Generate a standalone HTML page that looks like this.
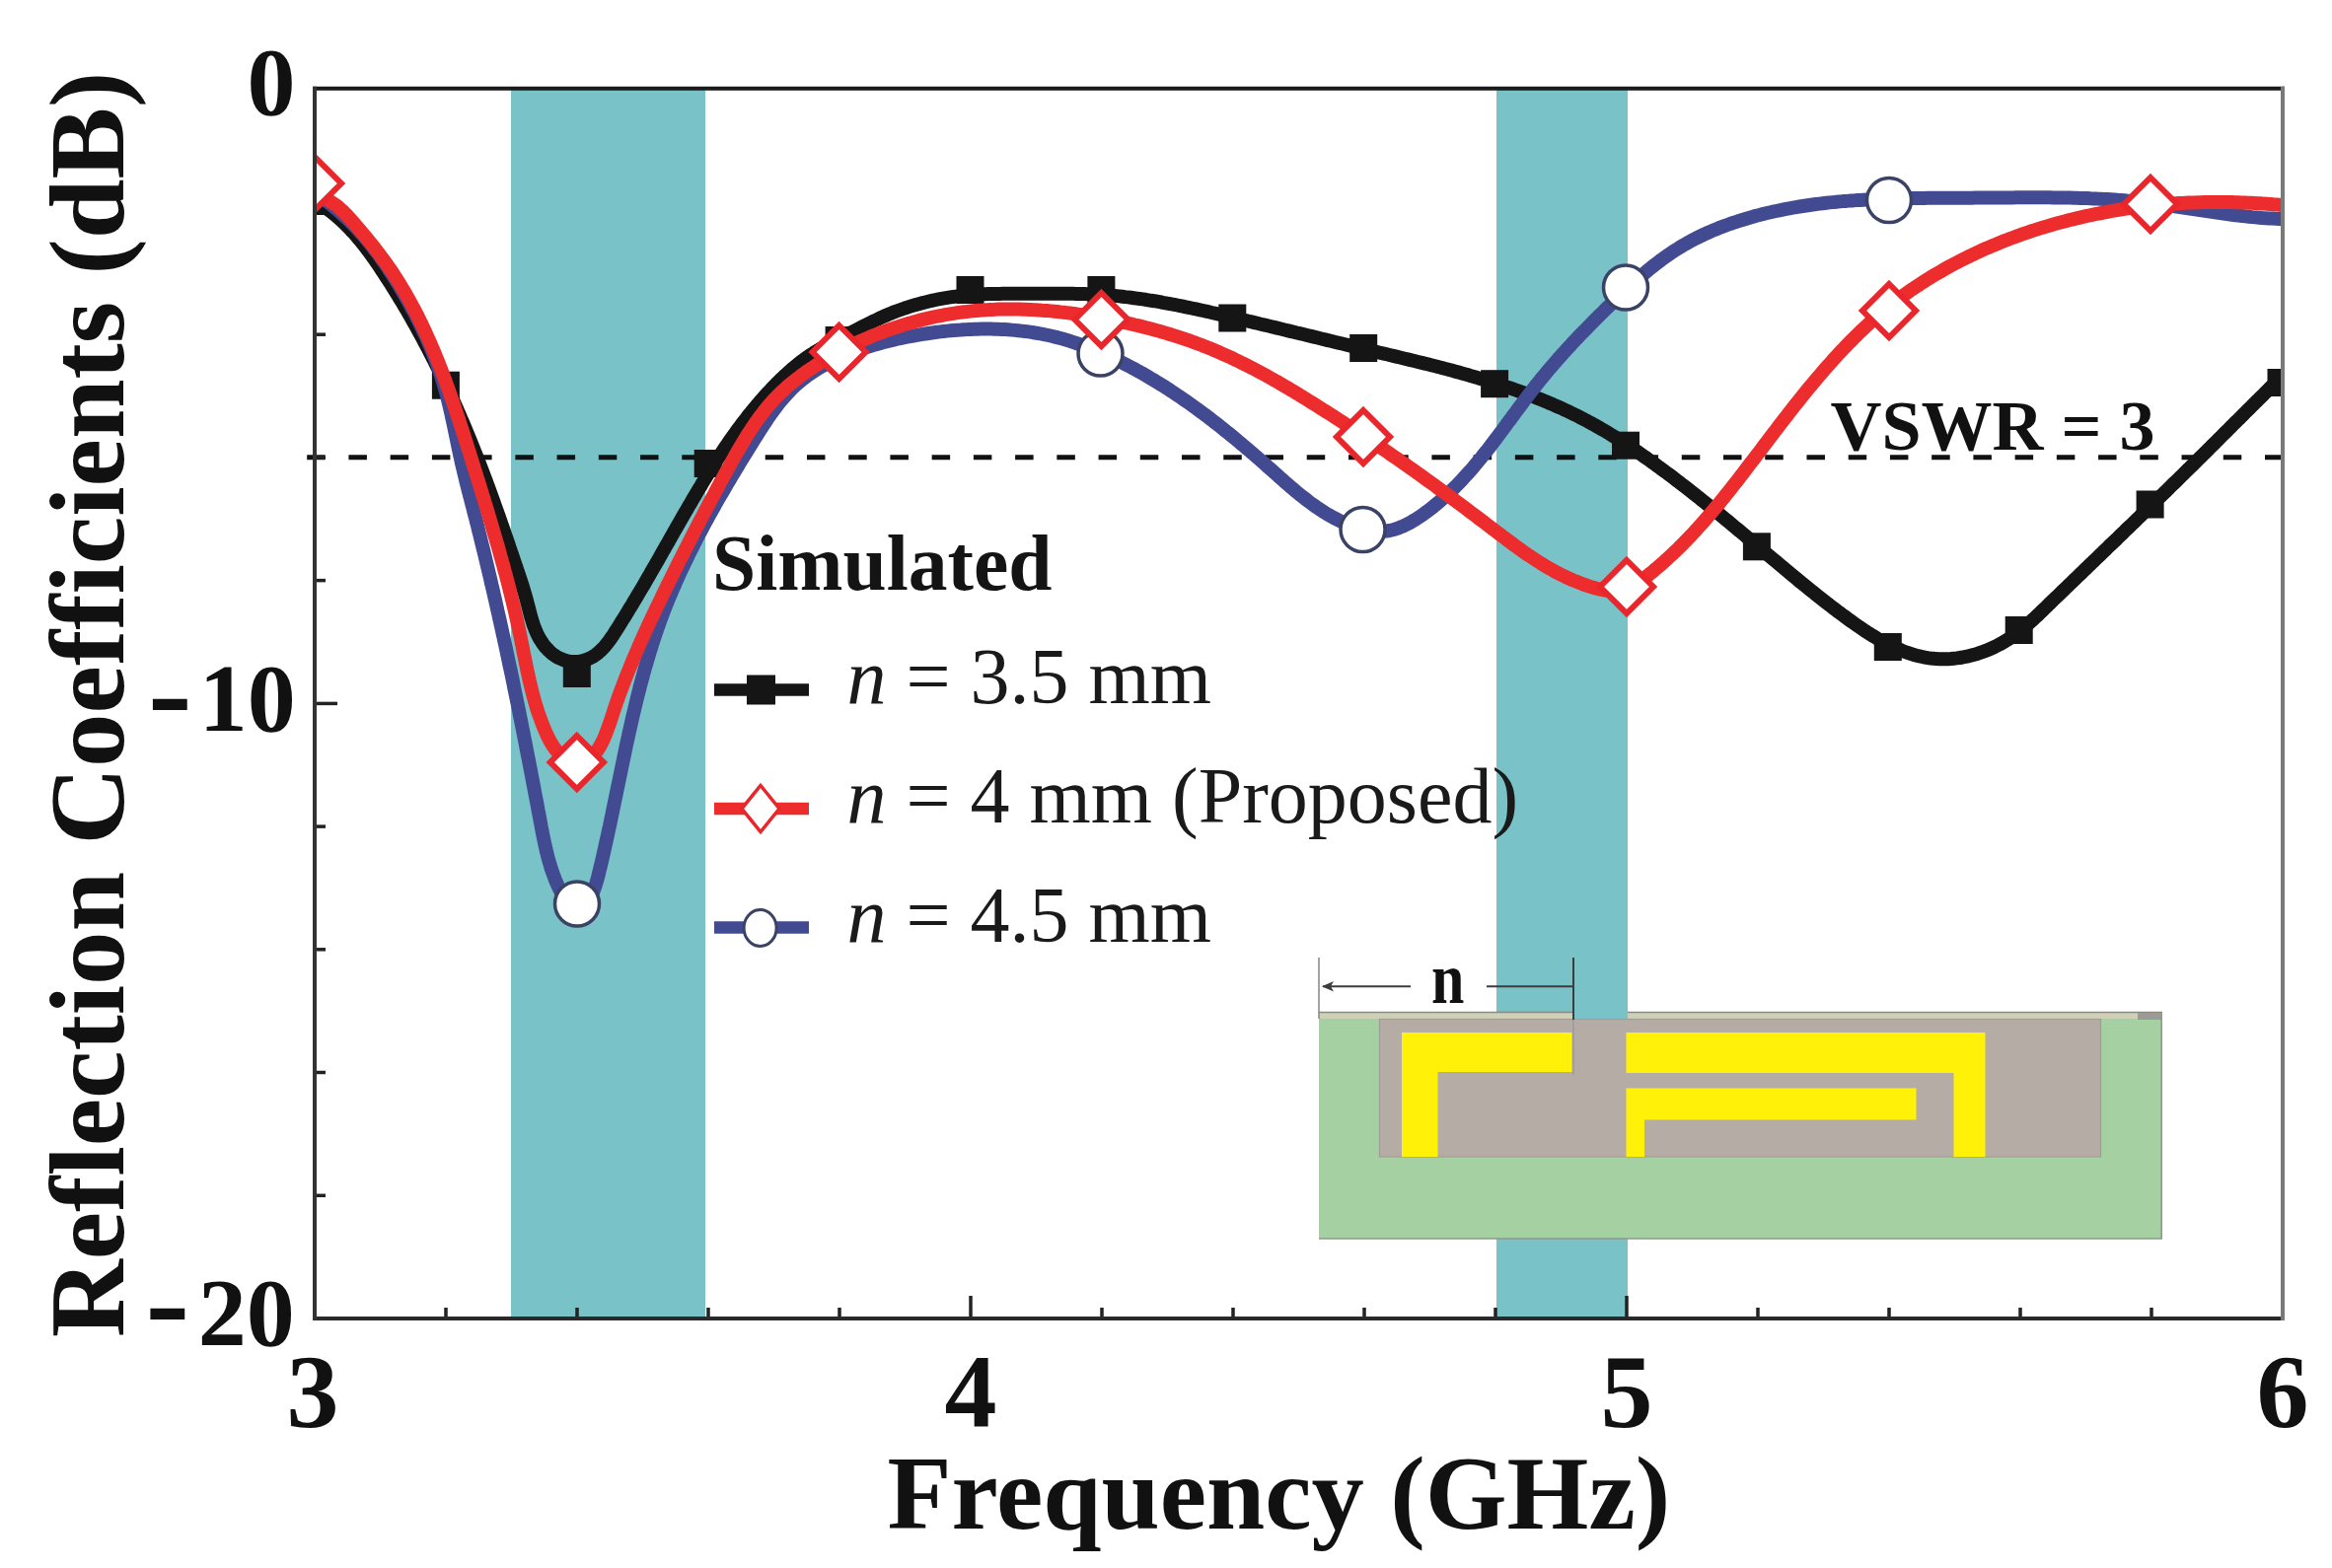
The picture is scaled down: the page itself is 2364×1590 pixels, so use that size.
<!DOCTYPE html>
<html><head><meta charset="utf-8"><title>Reflection Coefficients</title>
<style>
html,body{margin:0;padding:0;background:#fff;}
svg{display:block;}
text{font-family:"Liberation Serif","Times New Roman",serif;}
</style></head><body>
<svg width="2364" height="1590" viewBox="0 0 2364 1590">
<rect width="2364" height="1590" fill="#fff"/>
<defs><clipPath id="pa"><rect x="319.0" y="89.7" width="1995.0" height="1247.3"/></clipPath></defs>

<rect x="518" y="89.7" width="197" height="1247.3" fill="#79c2c8"/>
<rect x="1517" y="89.7" width="133" height="1247.3" fill="#79c2c8"/>
<g id="inset">
<rect x="1337" y="1027" width="855" height="229" fill="#a5d0a2"/>
<rect x="1337" y="1026" width="855" height="7" fill="#cfd0b8"/>
<line x1="1337" y1="1026.5" x2="2192" y2="1026.5" stroke="#8a8a80" stroke-width="1.5"/>
<rect x="1594" y="1020" width="56" height="14" fill="#79c2c8"/>
<rect x="1398.5" y="1033.5" width="731" height="139.5" fill="#b6aca6" stroke="#a39d97" stroke-width="1.2"/>
<rect x="2167" y="1027" width="24" height="7" fill="#9a9a96"/>
<path d="M2191.2,1027 V1256 H1337" fill="none" stroke="#8e9a8a" stroke-width="1.6"/>
<path d="M1421,1047 H1593.5 V1087 H1457.5 V1173 H1421 Z" fill="#fff107"/>
<path d="M1648.5,1047 H2012.5 V1173 H1980.5 V1088 H1648.5 Z" fill="#fff107"/>
<path d="M1648.5,1103.5 H1942.5 V1135.5 H1667 V1173 H1648.5 Z" fill="#fff107"/>
<line x1="1595" y1="1033" x2="1595" y2="1090" stroke="#9a9a9a" stroke-width="1.5"/>
<g stroke="#3c3c3c" stroke-width="2" fill="none">
<line x1="1337" y1="971" x2="1337" y2="1033" stroke="#8c8c8c" stroke-width="1.6"/>
<line x1="1341" y1="1000.2" x2="1430" y2="1000.2"/>
<line x1="1507" y1="1000.2" x2="1595" y2="1000.2"/>
<line x1="1595" y1="971" x2="1595" y2="1034"/>
</g>
<path d="M1340,1000.2 L1352,995 L1349,1000.2 L1352,1005.4 Z" fill="#3c3c3c"/>
<text x="1451" y="1016" font-size="60" font-weight="bold" transform="matrix(1,0,0,1.22,0,-222.5)" fill="#111">n</text>
</g>
<line x1="311.2" y1="463.8" x2="2312" y2="463.8" stroke="#111" stroke-width="5" stroke-dasharray="18.5 23.73"/>
<g stroke="#222" stroke-width="3.5"><line x1="452.0" y1="1337.0" x2="452.0" y2="1326.0"/><line x1="585.0" y1="1337.0" x2="585.0" y2="1326.0"/><line x1="718.0" y1="1337.0" x2="718.0" y2="1326.0"/><line x1="851.0" y1="1337.0" x2="851.0" y2="1326.0"/><line x1="984.0" y1="1337.0" x2="984.0" y2="1314.0"/><line x1="1117.0" y1="1337.0" x2="1117.0" y2="1326.0"/><line x1="1250.0" y1="1337.0" x2="1250.0" y2="1326.0"/><line x1="1383.0" y1="1337.0" x2="1383.0" y2="1326.0"/><line x1="1516.0" y1="1337.0" x2="1516.0" y2="1326.0"/><line x1="1649.0" y1="1337.0" x2="1649.0" y2="1314.0"/><line x1="1782.0" y1="1337.0" x2="1782.0" y2="1326.0"/><line x1="1915.0" y1="1337.0" x2="1915.0" y2="1326.0"/><line x1="2048.0" y1="1337.0" x2="2048.0" y2="1326.0"/><line x1="2181.0" y1="1337.0" x2="2181.0" y2="1326.0"/><line x1="319.0" y1="214.4" x2="330.0" y2="214.4"/><line x1="319.0" y1="339.2" x2="330.0" y2="339.2"/><line x1="319.0" y1="463.9" x2="330.0" y2="463.9"/><line x1="319.0" y1="588.6" x2="330.0" y2="588.6"/><line x1="319.0" y1="713.4" x2="342.0" y2="713.4"/><line x1="319.0" y1="838.1" x2="330.0" y2="838.1"/><line x1="319.0" y1="962.8" x2="330.0" y2="962.8"/><line x1="319.0" y1="1087.5" x2="330.0" y2="1087.5"/><line x1="319.0" y1="1212.3" x2="330.0" y2="1212.3"/></g>
<g clip-path="url(#pa)" fill="none" stroke-linejoin="round" stroke-linecap="round">
<path d="M319.2,203.7 L321.8,205.2 L324.3,206.8 L326.8,208.4 L329.3,210.0 L331.7,211.8 L334.1,213.5 L336.4,215.3 L338.7,217.2 L341.0,219.0 L343.2,221.0 L345.4,222.9 L347.5,224.9 L349.7,227.0 L351.7,229.0 L353.8,231.1 L355.8,233.3 L357.8,235.4 L359.8,237.6 L361.7,239.9 L363.6,242.1 L365.5,244.4 L367.4,246.7 L369.2,249.0 L371.0,251.4 L372.8,253.7 L374.6,256.1 L376.4,258.5 L378.1,260.9 L379.8,263.3 L381.5,265.8 L383.2,268.2 L384.9,270.7 L386.5,273.2 L388.2,275.7 L389.8,278.2 L391.4,280.7 L393.1,283.2 L394.7,285.7 L396.3,288.2 L397.8,290.7 L399.4,293.2 L401.0,295.7 L402.5,298.3 L404.1,300.8 L405.6,303.3 L407.2,305.9 L408.7,308.4 L410.2,311.0 L411.7,313.5 L413.2,316.1 L414.7,318.7 L416.2,321.2 L417.6,323.8 L419.1,326.4 L420.5,328.9 L422.0,331.5 L423.4,334.1 L424.8,336.7 L426.2,339.3 L427.7,341.9 L429.1,344.5 L430.4,347.1 L431.8,349.7 L433.2,352.4 L434.6,355.0 L435.9,357.6 L437.3,360.2 L438.6,362.9 L440.0,365.5 L441.3,368.2 L442.6,370.8 L443.9,373.4 L445.2,376.1 L446.5,378.8 L447.8,381.4 L449.1,384.1 L450.4,386.8 L451.6,389.4 L452.9,392.1 L454.1,394.8 L455.4,397.5 L456.6,400.1 L457.8,402.8 L459.1,405.5 L460.3,408.2 L461.5,410.9 L462.7,413.6 L463.9,416.3 L465.1,419.1 L466.3,421.8 L467.4,424.5 L468.6,427.2 L469.8,429.9 L470.9,432.7 L472.1,435.4 L473.2,438.1 L474.4,440.9 L475.5,443.6 L476.6,446.3 L477.7,449.1 L478.8,451.8 L479.9,454.6 L481.0,457.3 L482.1,460.1 L483.2,462.9 L484.3,465.6 L485.4,468.4 L486.5,471.2 L487.5,473.9 L488.6,476.7 L489.6,479.5 L490.7,482.3 L491.7,485.1 L492.8,487.9 L493.8,490.6 L494.8,493.4 L495.9,496.2 L496.9,499.0 L497.9,501.8 L498.9,504.6 L499.9,507.4 L500.9,510.2 L501.9,513.0 L502.9,515.8 L503.9,518.6 L504.9,521.4 L505.9,524.2 L506.9,527.0 L507.9,529.8 L508.8,532.6 L509.8,535.4 L510.8,538.2 L511.7,541.0 L512.7,543.8 L513.7,546.6 L514.6,549.4 L515.6,552.2 L516.5,555.0 L517.5,557.8 L518.4,560.6 L519.4,563.4 L520.3,566.2 L521.3,569.0 L522.2,571.7 L523.2,574.5 L524.1,577.3 L525.0,580.1 L526.0,582.9 L526.9,585.6 L527.8,588.4 L528.7,591.2 L529.6,594.0 L530.5,596.8 L531.3,599.6 L532.2,602.5 L533.0,605.3 L533.8,608.2 L534.5,611.1 L535.3,613.9 L536.0,616.8 L536.8,619.8 L537.5,622.7 L538.3,625.6 L539.2,628.5 L540.1,631.3 L541.0,634.2 L542.1,637.0 L543.2,639.8 L544.4,642.6 L545.8,645.3 L547.3,648.0 L548.9,650.5 L550.6,653.1 L552.4,655.5 L554.4,657.7 L556.5,659.9 L558.7,661.9 L561.0,663.7 L563.5,665.4 L566.0,666.9 L568.7,668.1 L571.4,669.2 L574.1,670.0 L576.9,670.6 L579.7,670.9 L582.5,671.0 L585.4,670.9 L588.2,670.6 L591.0,670.0 L593.7,669.2 L596.3,668.2 L598.9,667.0 L601.4,665.6 L603.8,664.0 L606.1,662.2 L608.3,660.3 L610.4,658.2 L612.5,656.1 L614.4,653.8 L616.3,651.4 L618.1,649.0 L619.8,646.5 L621.6,643.9 L623.2,641.3 L624.9,638.7 L626.5,636.2 L628.1,633.6 L629.7,631.0 L631.3,628.4 L632.9,625.9 L634.5,623.3 L636.0,620.8 L637.6,618.2 L639.1,615.7 L640.7,613.2 L642.2,610.6 L643.7,608.1 L645.2,605.6 L646.7,603.0 L648.2,600.5 L649.7,598.0 L651.2,595.5 L652.7,592.9 L654.2,590.4 L655.6,587.9 L657.1,585.3 L658.6,582.8 L660.0,580.2 L661.5,577.7 L663.0,575.1 L664.4,572.6 L665.9,570.0 L667.4,567.4 L668.8,564.9 L670.3,562.3 L671.7,559.7 L673.2,557.2 L674.6,554.6 L676.1,552.0 L677.6,549.4 L679.0,546.9 L680.5,544.3 L681.9,541.7 L683.4,539.1 L684.9,536.5 L686.3,534.0 L687.8,531.4 L689.3,528.8 L690.8,526.2 L692.2,523.6 L693.7,521.1 L695.2,518.5 L696.7,515.9 L698.2,513.3 L699.7,510.8 L701.2,508.2 L702.7,505.6 L704.2,503.1 L705.7,500.5 L707.2,498.0 L708.7,495.4 L710.3,492.9 L711.8,490.3 L713.3,487.8 L714.9,485.3 L716.4,482.7 L718.0,480.2 L719.6,477.7 L721.1,475.2 L722.7,472.7 L724.3,470.2 L725.9,467.7 L727.5,465.2 L729.1,462.7 L730.8,460.2 L732.4,457.8 L734.0,455.3 L735.7,452.9 L737.4,450.4 L739.0,448.0 L740.7,445.6 L742.4,443.1 L744.2,440.7 L745.9,438.3 L747.6,435.9 L749.4,433.6 L751.1,431.2 L752.9,428.8 L754.7,426.5 L756.5,424.2 L758.3,421.8 L760.2,419.5 L762.0,417.2 L763.9,414.9 L765.8,412.6 L767.7,410.4 L769.6,408.1 L771.5,405.9 L773.5,403.7 L775.5,401.4 L777.5,399.2 L779.5,397.1 L781.5,394.9 L783.5,392.7 L785.6,390.6 L787.7,388.5 L789.8,386.4 L791.9,384.3 L794.1,382.2 L796.3,380.2 L798.4,378.2 L800.7,376.2 L802.9,374.2 L805.2,372.3 L807.5,370.4 L809.8,368.6 L812.1,366.7 L814.5,365.0 L816.9,363.2 L819.3,361.5 L821.7,359.9 L824.2,358.3 L826.7,356.7 L829.2,355.2 L831.7,353.7 L834.3,352.2 L836.9,350.7 L839.5,349.3 L842.1,347.9 L844.7,346.5 L847.3,345.1 L849.9,343.8 L852.5,342.4 L855.2,341.1 L857.8,339.7 L860.5,338.4 L863.1,337.0 L865.8,335.7 L868.4,334.3 L871.1,332.9 L873.7,331.6 L876.4,330.2 L879.0,328.9 L881.7,327.6 L884.4,326.2 L887.0,325.0 L889.7,323.7 L892.4,322.4 L895.1,321.2 L897.8,320.0 L900.5,318.8 L903.3,317.7 L906.0,316.6 L908.8,315.5 L911.6,314.5 L914.4,313.5 L917.2,312.5 L920.0,311.6 L922.8,310.7 L925.6,309.8 L928.5,309.0 L931.3,308.2 L934.2,307.4 L937.0,306.7 L939.9,306.0 L942.8,305.3 L945.7,304.6 L948.6,304.0 L951.5,303.4 L954.4,302.9 L957.3,302.4 L960.3,301.9 L963.2,301.4 L966.1,301.0 L969.1,300.6 L972.0,300.2 L974.9,299.9 L977.9,299.6 L980.8,299.3 L983.8,299.0 L986.8,298.8 L989.7,298.6 L992.7,298.5 L995.6,298.3 L998.6,298.2 L1001.6,298.1 L1004.5,298.0 L1007.5,297.9 L1010.5,297.9 L1013.4,297.9 L1016.4,297.8 L1019.4,297.8 L1022.3,297.8 L1025.3,297.8 L1028.3,297.8 L1031.2,297.8 L1034.2,297.8 L1037.2,297.8 L1040.1,297.8 L1043.1,297.8 L1046.1,297.8 L1049.0,297.8 L1052.0,297.8 L1055.0,297.8 L1057.9,297.8 L1060.9,297.8 L1063.9,297.8 L1066.8,297.8 L1069.8,297.8 L1072.8,297.8 L1075.7,297.8 L1078.7,297.8 L1081.6,297.8 L1084.6,297.8 L1087.6,297.8 L1090.5,297.9 L1093.5,297.9 L1096.4,298.0 L1099.4,298.1 L1102.3,298.2 L1105.3,298.3 L1108.2,298.4 L1111.2,298.6 L1114.1,298.7 L1117.1,298.9 L1120.0,299.1 L1123.0,299.3 L1125.9,299.6 L1128.9,299.8 L1131.8,300.1 L1134.7,300.4 L1137.7,300.7 L1140.6,301.1 L1143.6,301.4 L1146.5,301.8 L1149.4,302.2 L1152.4,302.6 L1155.3,303.0 L1158.3,303.4 L1161.2,303.8 L1164.1,304.3 L1167.0,304.8 L1170.0,305.2 L1172.9,305.7 L1175.8,306.2 L1178.8,306.8 L1181.7,307.3 L1184.6,307.8 L1187.5,308.4 L1190.4,308.9 L1193.4,309.5 L1196.3,310.1 L1199.2,310.7 L1202.1,311.3 L1205.0,311.9 L1207.9,312.5 L1210.8,313.1 L1213.8,313.7 L1216.7,314.4 L1219.6,315.0 L1222.5,315.6 L1225.4,316.3 L1228.3,317.0 L1231.2,317.6 L1234.1,318.3 L1237.0,318.9 L1239.9,319.6 L1242.8,320.3 L1245.6,321.0 L1248.5,321.6 L1251.4,322.3 L1254.3,323.0 L1257.2,323.7 L1260.1,324.4 L1263.0,325.0 L1265.8,325.7 L1268.7,326.4 L1271.6,327.1 L1274.5,327.8 L1277.3,328.5 L1280.2,329.2 L1283.1,329.8 L1286.0,330.5 L1288.8,331.2 L1291.7,331.9 L1294.6,332.6 L1297.4,333.3 L1300.3,334.0 L1303.2,334.7 L1306.0,335.4 L1308.9,336.1 L1311.8,336.8 L1314.6,337.5 L1317.5,338.1 L1320.4,338.8 L1323.2,339.5 L1326.1,340.2 L1329.0,340.9 L1331.9,341.6 L1334.7,342.3 L1337.6,343.0 L1340.5,343.7 L1343.3,344.4 L1346.2,345.1 L1349.1,345.8 L1351.9,346.5 L1354.8,347.2 L1357.7,347.9 L1360.6,348.5 L1363.4,349.2 L1366.3,349.9 L1369.2,350.6 L1372.1,351.3 L1374.9,352.0 L1377.8,352.7 L1380.7,353.4 L1383.6,354.0 L1386.5,354.7 L1389.4,355.4 L1392.3,356.1 L1395.1,356.8 L1398.0,357.5 L1400.9,358.2 L1403.8,358.8 L1406.7,359.5 L1409.6,360.2 L1412.5,360.9 L1415.4,361.6 L1418.3,362.3 L1421.2,363.0 L1424.1,363.7 L1427.0,364.4 L1429.9,365.1 L1432.8,365.8 L1435.6,366.5 L1438.5,367.2 L1441.4,367.9 L1444.3,368.6 L1447.2,369.3 L1450.1,370.1 L1453.0,370.8 L1455.9,371.5 L1458.8,372.3 L1461.6,373.0 L1464.5,373.8 L1467.4,374.5 L1470.3,375.3 L1473.1,376.1 L1476.0,376.9 L1478.9,377.6 L1481.7,378.4 L1484.6,379.2 L1487.5,380.0 L1490.3,380.9 L1493.2,381.7 L1496.0,382.5 L1498.9,383.4 L1501.7,384.2 L1504.6,385.1 L1507.4,385.9 L1510.2,386.8 L1513.0,387.7 L1515.9,388.6 L1518.7,389.5 L1521.5,390.4 L1524.3,391.3 L1527.1,392.3 L1529.9,393.2 L1532.7,394.2 L1535.5,395.2 L1538.3,396.1 L1541.1,397.1 L1543.9,398.1 L1546.6,399.2 L1549.4,400.2 L1552.2,401.3 L1554.9,402.3 L1557.7,403.4 L1560.4,404.5 L1563.1,405.6 L1565.9,406.7 L1568.6,407.8 L1571.3,409.0 L1574.0,410.1 L1576.7,411.3 L1579.4,412.5 L1582.1,413.7 L1584.8,414.9 L1587.4,416.2 L1590.1,417.4 L1592.8,418.7 L1595.4,420.0 L1598.1,421.3 L1600.7,422.6 L1603.3,424.0 L1605.9,425.3 L1608.5,426.7 L1611.1,428.1 L1613.7,429.5 L1616.3,430.9 L1618.9,432.4 L1621.5,433.9 L1624.0,435.3 L1626.6,436.8 L1629.1,438.3 L1631.7,439.9 L1634.2,441.4 L1636.7,443.0 L1639.2,444.5 L1641.7,446.1 L1644.2,447.7 L1646.7,449.3 L1649.2,451.0 L1651.7,452.6 L1654.2,454.3 L1656.6,455.9 L1659.1,457.6 L1661.5,459.3 L1664.0,461.0 L1666.4,462.7 L1668.9,464.4 L1671.3,466.1 L1673.7,467.8 L1676.1,469.6 L1678.5,471.3 L1680.9,473.1 L1683.3,474.8 L1685.7,476.6 L1688.1,478.4 L1690.5,480.1 L1692.9,481.9 L1695.3,483.7 L1697.6,485.5 L1700.0,487.3 L1702.4,489.1 L1704.7,490.9 L1707.1,492.8 L1709.4,494.6 L1711.8,496.4 L1714.1,498.2 L1716.4,500.1 L1718.8,501.9 L1721.1,503.8 L1723.4,505.6 L1725.7,507.5 L1728.0,509.3 L1730.4,511.2 L1732.7,513.0 L1735.0,514.9 L1737.3,516.8 L1739.6,518.6 L1741.9,520.5 L1744.2,522.4 L1746.4,524.3 L1748.7,526.2 L1751.0,528.0 L1753.3,529.9 L1755.6,531.8 L1757.8,533.7 L1760.1,535.6 L1762.4,537.5 L1764.7,539.4 L1766.9,541.3 L1769.2,543.2 L1771.4,545.1 L1773.7,547.0 L1776.0,548.9 L1778.2,550.8 L1780.5,552.7 L1782.7,554.6 L1785.0,556.5 L1787.2,558.4 L1789.5,560.3 L1791.7,562.2 L1794.0,564.1 L1796.2,566.0 L1798.5,567.9 L1800.7,569.7 L1803.0,571.6 L1805.2,573.5 L1807.5,575.4 L1809.7,577.3 L1812.0,579.2 L1814.3,581.1 L1816.5,583.0 L1818.8,584.8 L1821.1,586.7 L1823.3,588.6 L1825.6,590.5 L1827.9,592.3 L1830.2,594.2 L1832.5,596.1 L1834.8,597.9 L1837.1,599.8 L1839.4,601.6 L1841.7,603.5 L1844.1,605.3 L1846.4,607.2 L1848.7,609.0 L1851.1,610.8 L1853.4,612.7 L1855.8,614.5 L1858.2,616.3 L1860.6,618.1 L1862.9,619.9 L1865.3,621.7 L1867.7,623.5 L1870.2,625.3 L1872.6,627.1 L1875.0,628.9 L1877.5,630.6 L1880.0,632.4 L1882.4,634.1 L1884.9,635.8 L1887.4,637.5 L1889.9,639.2 L1892.4,640.9 L1895.0,642.5 L1897.5,644.1 L1900.1,645.6 L1902.6,647.2 L1905.2,648.7 L1907.8,650.1 L1910.4,651.6 L1913.1,652.9 L1915.7,654.3 L1918.3,655.6 L1921.0,656.8 L1923.7,658.0 L1926.4,659.1 L1929.1,660.2 L1931.8,661.2 L1934.6,662.2 L1937.3,663.1 L1940.1,663.9 L1942.9,664.7 L1945.7,665.4 L1948.5,666.0 L1951.4,666.6 L1954.2,667.1 L1957.1,667.5 L1960.0,667.8 L1962.9,668.1 L1965.8,668.2 L1968.8,668.3 L1971.7,668.3 L1974.7,668.2 L1977.7,668.0 L1980.7,667.7 L1983.7,667.4 L1986.6,667.0 L1989.6,666.5 L1992.6,665.9 L1995.6,665.3 L1998.5,664.5 L2001.5,663.7 L2004.4,662.9 L2007.3,661.9 L2010.2,660.9 L2013.0,659.9 L2015.8,658.7 L2018.6,657.5 L2021.4,656.3 L2024.1,654.9 L2026.7,653.6 L2029.3,652.1 L2031.9,650.6 L2034.4,649.1 L2036.9,647.5 L2039.3,645.8 L2041.7,644.1 L2044.1,642.3 L2046.4,640.6 L2048.7,638.7 L2051.0,636.9 L2053.2,635.0 L2055.5,633.1 L2057.7,631.1 L2059.8,629.2 L2062.0,627.2 L2064.1,625.2 L2066.3,623.2 L2068.4,621.1 L2070.5,619.1 L2072.7,617.0 L2074.8,615.0 L2076.9,612.9 L2079.0,610.9 L2081.1,608.8 L2083.2,606.8 L2085.4,604.7 L2087.5,602.7 L2089.6,600.6 L2091.7,598.6 L2093.9,596.5 L2096.0,594.5 L2098.1,592.4 L2100.3,590.4 L2102.4,588.3 L2104.5,586.2 L2106.6,584.2 L2108.8,582.1 L2110.9,580.1 L2113.0,578.0 L2115.2,576.0 L2117.3,573.9 L2119.4,571.9 L2121.6,569.8 L2123.7,567.7 L2125.8,565.7 L2128.0,563.6 L2130.1,561.6 L2132.2,559.5 L2134.4,557.5 L2136.5,555.4 L2138.6,553.3 L2140.8,551.3 L2142.9,549.2 L2145.1,547.2 L2147.2,545.1 L2149.3,543.0 L2151.5,541.0 L2153.6,538.9 L2155.7,536.8 L2157.9,534.8 L2160.0,532.7 L2162.1,530.7 L2164.3,528.6 L2166.4,526.5 L2168.5,524.5 L2170.7,522.4 L2172.8,520.3 L2174.9,518.3 L2177.1,516.2 L2179.2,514.1 L2181.3,512.1 L2183.4,510.0 L2185.6,507.9 L2187.7,505.8 L2189.8,503.8 L2191.9,501.7 L2194.1,499.6 L2196.2,497.6 L2198.3,495.5 L2200.4,493.4 L2202.5,491.3 L2204.7,489.3 L2206.8,487.2 L2208.9,485.1 L2211.0,483.0 L2213.1,481.0 L2215.2,478.9 L2217.3,476.8 L2219.4,474.7 L2221.6,472.6 L2223.7,470.6 L2225.8,468.5 L2227.9,466.4 L2230.0,464.3 L2232.1,462.2 L2234.2,460.1 L2236.3,458.1 L2238.4,456.0 L2240.5,453.9 L2242.6,451.8 L2244.7,449.7 L2246.8,447.6 L2248.9,445.5 L2251.0,443.4 L2253.0,441.4 L2255.1,439.3 L2257.2,437.2 L2259.3,435.1 L2261.4,433.0 L2263.5,430.9 L2265.6,428.8 L2267.7,426.7 L2269.8,424.7 L2271.9,422.6 L2274.0,420.5 L2276.1,418.4 L2278.2,416.3 L2280.3,414.2 L2282.4,412.1 L2284.5,410.0 L2286.6,407.9 L2288.7,405.9 L2290.8,403.8 L2292.9,401.7 L2295.0,399.6 L2297.1,397.5 L2299.2,395.4 L2301.3,393.3 L2303.4,391.2 L2305.6,389.1 L2307.7,387.1 L2309.8,385.0 L2311.9,382.9 L2314.0,380.8" stroke="#151515" stroke-width="14"/>
<g fill="#151515" stroke="none"><rect x="305.0" y="190.0" width="28" height="28"/><rect x="437.9" y="376.7" width="28" height="28"/><rect x="570.8" y="669.0" width="28" height="28"/><rect x="703.7" y="456.0" width="28" height="28"/><rect x="836.6" y="331.0" width="28" height="28"/><rect x="969.5" y="280.0" width="28" height="28"/><rect x="1102.4" y="280.0" width="28" height="28"/><rect x="1235.3" y="308.5" width="28" height="28"/><rect x="1368.2" y="339.0" width="28" height="28"/><rect x="1501.1" y="375.2" width="28" height="28"/><rect x="1634.0" y="437.7" width="28" height="28"/><rect x="1766.9" y="540.3" width="28" height="28"/><rect x="1899.8" y="642.0" width="28" height="28"/><rect x="2032.7" y="625.0" width="28" height="28"/><rect x="2165.6" y="497.5" width="28" height="28"/><rect x="2298.5" y="374.0" width="28" height="28"/></g>
<path d="M319.1,195.8 L322.0,197.7 L324.9,199.6 L327.7,201.6 L330.5,203.6 L333.3,205.7 L336.0,207.8 L338.7,210.0 L341.3,212.2 L343.9,214.4 L346.5,216.7 L349.0,219.0 L351.5,221.3 L354.0,223.7 L356.4,226.1 L358.8,228.5 L361.2,231.0 L363.5,233.5 L365.8,236.1 L368.1,238.6 L370.3,241.2 L372.5,243.8 L374.7,246.5 L376.8,249.2 L378.9,251.9 L381.0,254.6 L383.1,257.4 L385.1,260.1 L387.1,262.9 L389.1,265.7 L391.1,268.6 L393.0,271.4 L394.9,274.3 L396.8,277.2 L398.7,280.1 L400.5,283.0 L402.3,286.0 L404.1,288.9 L405.9,291.9 L407.6,294.9 L409.4,297.9 L411.1,300.8 L412.8,303.9 L414.5,306.9 L416.1,309.9 L417.7,312.9 L419.4,316.0 L421.0,319.0 L422.5,322.1 L424.1,325.2 L425.6,328.3 L427.1,331.4 L428.6,334.5 L430.0,337.6 L431.5,340.7 L432.9,343.8 L434.2,347.0 L435.6,350.1 L436.9,353.3 L438.2,356.5 L439.5,359.7 L440.7,362.8 L441.9,366.1 L443.1,369.3 L444.2,372.5 L445.4,375.7 L446.5,379.0 L447.5,382.2 L448.5,385.5 L449.5,388.8 L450.5,392.1 L451.4,395.4 L452.3,398.7 L453.2,402.0 L454.0,405.3 L454.8,408.6 L455.6,412.0 L456.4,415.3 L457.2,418.7 L457.9,422.0 L458.6,425.4 L459.4,428.8 L460.1,432.1 L460.8,435.5 L461.5,438.9 L462.2,442.2 L462.9,445.6 L463.6,449.0 L464.3,452.4 L465.0,455.8 L465.7,459.1 L466.4,462.5 L467.2,465.9 L467.9,469.2 L468.7,472.6 L469.5,475.9 L470.3,479.3 L471.1,482.6 L471.9,486.0 L472.7,489.3 L473.6,492.7 L474.4,496.0 L475.3,499.4 L476.1,502.7 L477.0,506.0 L477.9,509.4 L478.7,512.7 L479.6,516.0 L480.4,519.4 L481.3,522.7 L482.2,526.0 L483.0,529.4 L483.9,532.7 L484.7,536.0 L485.5,539.4 L486.4,542.7 L487.2,546.0 L488.0,549.4 L488.8,552.7 L489.7,556.1 L490.5,559.4 L491.3,562.7 L492.1,566.1 L492.9,569.4 L493.7,572.8 L494.5,576.1 L495.3,579.5 L496.1,582.8 L496.9,586.1 L497.6,589.5 L498.4,592.8 L499.2,596.2 L500.0,599.5 L500.7,602.9 L501.5,606.2 L502.3,609.6 L503.0,612.9 L503.8,616.3 L504.5,619.6 L505.3,623.0 L506.0,626.3 L506.8,629.7 L507.5,633.0 L508.3,636.4 L509.0,639.7 L509.7,643.1 L510.5,646.4 L511.2,649.8 L511.9,653.1 L512.7,656.5 L513.4,659.9 L514.1,663.2 L514.8,666.6 L515.5,669.9 L516.2,673.3 L516.9,676.7 L517.7,680.0 L518.4,683.4 L519.1,686.7 L519.8,690.1 L520.5,693.5 L521.1,696.8 L521.8,700.2 L522.5,703.6 L523.2,706.9 L523.9,710.3 L524.6,713.7 L525.3,717.0 L526.0,720.4 L526.6,723.8 L527.3,727.1 L528.0,730.5 L528.7,733.9 L529.3,737.2 L530.0,740.6 L530.7,744.0 L531.3,747.4 L532.0,750.7 L532.7,754.1 L533.3,757.5 L534.0,760.9 L534.6,764.3 L535.3,767.6 L536.0,771.0 L536.6,774.4 L537.3,777.8 L537.9,781.2 L538.6,784.5 L539.2,787.9 L539.9,791.3 L540.5,794.7 L541.2,798.1 L541.8,801.5 L542.4,804.9 L543.1,808.2 L543.7,811.6 L544.4,815.0 L545.0,818.4 L545.6,821.8 L546.3,825.2 L546.9,828.6 L547.6,832.0 L548.2,835.4 L548.8,838.8 L549.5,842.2 L550.1,845.6 L550.8,848.9 L551.5,852.3 L552.2,855.7 L553.0,859.1 L553.7,862.4 L554.6,865.8 L555.4,869.1 L556.3,872.5 L557.3,875.8 L558.3,879.1 L559.3,882.4 L560.5,885.7 L561.7,888.9 L562.9,892.2 L564.3,895.4 L565.7,898.6 L567.2,901.8 L568.8,904.9 L570.5,908.1 L572.3,911.2 L574.2,914.3 L576.2,917.2 L578.2,919.8 L580.4,922.0 L582.6,923.4 L584.9,923.9 L587.2,923.4 L589.6,922.0 L591.8,919.9 L594.0,917.3 L596.1,914.4 L597.9,911.3 L599.6,908.1 L601.0,904.9 L602.3,901.6 L603.5,898.3 L604.5,895.0 L605.5,891.7 L606.4,888.3 L607.2,884.9 L608.0,881.5 L608.9,878.1 L609.7,874.7 L610.5,871.4 L611.2,868.0 L612.0,864.6 L612.8,861.2 L613.5,857.8 L614.3,854.4 L615.0,851.0 L615.8,847.6 L616.5,844.2 L617.2,840.9 L618.0,837.5 L618.7,834.1 L619.4,830.7 L620.1,827.3 L620.8,823.9 L621.5,820.5 L622.2,817.1 L622.9,813.8 L623.6,810.4 L624.3,807.0 L625.0,803.6 L625.7,800.2 L626.4,796.8 L627.1,793.5 L627.8,790.1 L628.5,786.7 L629.2,783.3 L629.9,779.9 L630.6,776.6 L631.3,773.2 L632.0,769.8 L632.7,766.5 L633.4,763.1 L634.1,759.7 L634.8,756.4 L635.5,753.0 L636.3,749.6 L637.0,746.3 L637.7,742.9 L638.5,739.6 L639.2,736.2 L640.0,732.9 L640.7,729.5 L641.5,726.2 L642.3,722.9 L643.1,719.5 L643.9,716.2 L644.7,712.9 L645.5,709.5 L646.3,706.2 L647.1,702.9 L648.0,699.6 L648.8,696.2 L649.7,692.9 L650.6,689.6 L651.5,686.3 L652.4,683.0 L653.3,679.7 L654.2,676.4 L655.2,673.2 L656.1,669.9 L657.1,666.6 L658.1,663.3 L659.1,660.0 L660.1,656.8 L661.1,653.5 L662.2,650.3 L663.2,647.0 L664.3,643.7 L665.4,640.5 L666.5,637.3 L667.7,634.0 L668.8,630.8 L670.0,627.6 L671.2,624.4 L672.4,621.1 L673.6,617.9 L674.9,614.7 L676.1,611.5 L677.4,608.3 L678.7,605.2 L680.1,602.0 L681.4,598.8 L682.8,595.6 L684.2,592.5 L685.6,589.3 L687.0,586.1 L688.4,583.0 L689.8,579.9 L691.3,576.7 L692.8,573.6 L694.3,570.5 L695.8,567.4 L697.3,564.2 L698.8,561.1 L700.4,558.0 L701.9,555.0 L703.5,551.9 L705.1,548.8 L706.6,545.7 L708.2,542.7 L709.9,539.6 L711.5,536.5 L713.1,533.5 L714.7,530.5 L716.4,527.4 L718.0,524.4 L719.7,521.4 L721.4,518.4 L723.1,515.4 L724.7,512.4 L726.4,509.4 L728.1,506.4 L729.8,503.5 L731.6,500.5 L733.3,497.5 L735.0,494.6 L736.7,491.6 L738.4,488.7 L740.2,485.8 L741.9,482.8 L743.7,479.9 L745.4,477.0 L747.2,474.1 L748.9,471.2 L750.7,468.2 L752.5,465.3 L754.3,462.4 L756.1,459.5 L757.9,456.6 L759.7,453.6 L761.5,450.7 L763.3,447.8 L765.1,444.9 L767.0,441.9 L768.8,439.0 L770.7,436.0 L772.6,433.1 L774.5,430.2 L776.4,427.3 L778.3,424.4 L780.3,421.5 L782.3,418.7 L784.4,415.9 L786.4,413.1 L788.5,410.4 L790.7,407.7 L792.9,405.0 L795.1,402.4 L797.4,399.9 L799.7,397.4 L802.1,394.9 L804.6,392.5 L807.1,390.2 L809.6,388.0 L812.2,385.8 L814.9,383.7 L817.6,381.6 L820.4,379.6 L823.2,377.7 L826.1,375.8 L829.0,374.0 L831.9,372.3 L834.9,370.6 L837.9,368.9 L841.0,367.3 L844.1,365.8 L847.2,364.3 L850.3,362.9 L853.5,361.5 L856.7,360.1 L859.9,358.8 L863.1,357.6 L866.3,356.3 L869.6,355.2 L872.9,354.0 L876.1,352.9 L879.4,351.9 L882.7,350.8 L886.0,349.8 L889.3,348.9 L892.6,348.0 L896.0,347.1 L899.3,346.2 L902.6,345.4 L905.9,344.6 L909.3,343.8 L912.6,343.1 L916.0,342.4 L919.3,341.7 L922.7,341.1 L926.1,340.5 L929.5,339.9 L932.8,339.3 L936.2,338.7 L939.6,338.2 L943.0,337.7 L946.4,337.3 L949.8,336.8 L953.2,336.4 L956.7,336.0 L960.1,335.6 L963.5,335.3 L967.0,335.0 L970.4,334.7 L973.8,334.5 L977.3,334.2 L980.7,334.1 L984.1,333.9 L987.6,333.8 L991.0,333.7 L994.5,333.6 L997.9,333.6 L1001.3,333.6 L1004.8,333.6 L1008.2,333.7 L1011.7,333.8 L1015.1,333.9 L1018.5,334.1 L1022.0,334.3 L1025.4,334.6 L1028.8,334.9 L1032.2,335.2 L1035.6,335.6 L1039.0,336.0 L1042.4,336.4 L1045.8,336.9 L1049.2,337.5 L1052.6,338.0 L1056.0,338.7 L1059.3,339.3 L1062.7,340.0 L1066.0,340.8 L1069.4,341.6 L1072.7,342.4 L1076.0,343.3 L1079.4,344.3 L1082.7,345.2 L1086.0,346.3 L1089.2,347.4 L1092.5,348.5 L1095.8,349.6 L1099.0,350.8 L1102.2,352.0 L1105.5,353.3 L1108.7,354.6 L1111.9,355.9 L1115.0,357.3 L1118.2,358.6 L1121.4,360.0 L1124.5,361.5 L1127.6,362.9 L1130.7,364.4 L1133.8,365.9 L1136.9,367.4 L1140.0,369.0 L1143.0,370.5 L1146.1,372.1 L1149.1,373.7 L1152.1,375.4 L1155.1,377.0 L1158.1,378.7 L1161.1,380.4 L1164.0,382.1 L1167.0,383.9 L1169.9,385.6 L1172.9,387.4 L1175.8,389.2 L1178.7,391.0 L1181.6,392.8 L1184.5,394.7 L1187.3,396.6 L1190.2,398.4 L1193.1,400.4 L1195.9,402.3 L1198.7,404.2 L1201.5,406.2 L1204.4,408.1 L1207.2,410.1 L1209.9,412.1 L1212.7,414.1 L1215.5,416.2 L1218.3,418.2 L1221.0,420.3 L1223.8,422.3 L1226.5,424.4 L1229.2,426.5 L1231.9,428.6 L1234.7,430.7 L1237.4,432.9 L1240.0,435.0 L1242.7,437.2 L1245.4,439.3 L1248.1,441.5 L1250.7,443.7 L1253.4,445.9 L1256.1,448.1 L1258.7,450.3 L1261.3,452.5 L1264.0,454.8 L1266.6,457.0 L1269.2,459.3 L1271.8,461.5 L1274.4,463.8 L1277.0,466.0 L1279.6,468.3 L1282.2,470.6 L1284.8,472.9 L1287.3,475.2 L1289.9,477.4 L1292.5,479.7 L1295.1,482.0 L1297.6,484.3 L1300.2,486.6 L1302.8,488.9 L1305.4,491.1 L1308.0,493.4 L1310.6,495.6 L1313.2,497.8 L1315.8,500.0 L1318.5,502.2 L1321.2,504.3 L1323.9,506.4 L1326.6,508.5 L1329.3,510.5 L1332.1,512.5 L1334.9,514.5 L1337.8,516.4 L1340.6,518.3 L1343.5,520.1 L1346.5,521.9 L1349.5,523.6 L1352.5,525.2 L1355.5,526.8 L1358.6,528.4 L1361.8,529.8 L1365.0,531.2 L1368.2,532.6 L1371.5,533.8 L1374.8,534.9 L1378.2,535.9 L1381.5,536.8 L1384.9,537.5 L1388.4,538.1 L1391.8,538.6 L1395.2,538.8 L1398.6,538.9 L1402.0,538.8 L1405.4,538.5 L1408.7,538.0 L1412.0,537.2 L1415.3,536.3 L1418.5,535.1 L1421.7,533.8 L1424.8,532.4 L1427.9,530.8 L1431.0,529.1 L1434.0,527.3 L1437.0,525.4 L1439.9,523.5 L1442.8,521.5 L1445.6,519.4 L1448.5,517.3 L1451.2,515.2 L1453.9,513.0 L1456.6,510.8 L1459.3,508.6 L1461.9,506.3 L1464.5,504.0 L1467.0,501.7 L1469.5,499.3 L1472.0,496.9 L1474.4,494.5 L1476.8,492.1 L1479.2,489.6 L1481.6,487.1 L1483.9,484.6 L1486.2,482.1 L1488.5,479.5 L1490.8,477.0 L1493.0,474.4 L1495.2,471.8 L1497.4,469.1 L1499.6,466.5 L1501.8,463.8 L1503.9,461.1 L1506.0,458.5 L1508.2,455.8 L1510.3,453.1 L1512.4,450.3 L1514.4,447.6 L1516.5,444.9 L1518.6,442.1 L1520.6,439.4 L1522.7,436.6 L1524.7,433.9 L1526.8,431.1 L1528.8,428.3 L1530.9,425.6 L1532.9,422.8 L1535.0,420.0 L1537.0,417.2 L1539.0,414.5 L1541.1,411.7 L1543.2,409.0 L1545.2,406.2 L1547.3,403.5 L1549.4,400.7 L1551.5,398.0 L1553.6,395.3 L1555.7,392.6 L1557.8,389.9 L1560.0,387.2 L1562.1,384.5 L1564.3,381.8 L1566.5,379.2 L1568.7,376.6 L1570.9,373.9 L1573.2,371.3 L1575.4,368.7 L1577.7,366.1 L1579.9,363.5 L1582.2,361.0 L1584.5,358.4 L1586.8,355.8 L1589.1,353.3 L1591.5,350.8 L1593.8,348.2 L1596.2,345.7 L1598.5,343.2 L1600.9,340.7 L1603.3,338.2 L1605.7,335.8 L1608.1,333.3 L1610.5,330.8 L1612.9,328.4 L1615.3,325.9 L1617.7,323.5 L1620.2,321.0 L1622.6,318.6 L1625.1,316.2 L1627.5,313.8 L1630.0,311.4 L1632.5,309.0 L1634.9,306.6 L1637.4,304.2 L1639.9,301.8 L1642.4,299.4 L1644.9,297.0 L1647.4,294.7 L1649.9,292.3 L1652.4,290.0 L1655.0,287.7 L1657.5,285.4 L1660.1,283.1 L1662.7,280.9 L1665.3,278.6 L1667.9,276.4 L1670.5,274.2 L1673.1,272.0 L1675.8,269.9 L1678.5,267.8 L1681.2,265.7 L1683.9,263.6 L1686.7,261.6 L1689.5,259.6 L1692.3,257.7 L1695.1,255.8 L1698.0,253.9 L1700.9,252.1 L1703.8,250.3 L1706.7,248.5 L1709.7,246.8 L1712.7,245.1 L1715.7,243.5 L1718.8,241.9 L1721.9,240.4 L1725.0,238.9 L1728.1,237.4 L1731.2,236.0 L1734.4,234.6 L1737.6,233.2 L1740.8,231.9 L1744.0,230.6 L1747.3,229.4 L1750.5,228.2 L1753.8,227.0 L1757.1,225.9 L1760.4,224.8 L1763.7,223.7 L1767.0,222.7 L1770.3,221.7 L1773.7,220.7 L1777.0,219.8 L1780.3,218.8 L1783.7,218.0 L1787.0,217.1 L1790.4,216.3 L1793.7,215.5 L1797.1,214.7 L1800.5,214.0 L1803.8,213.3 L1807.2,212.6 L1810.6,211.9 L1813.9,211.3 L1817.3,210.7 L1820.7,210.1 L1824.1,209.5 L1827.5,209.0 L1830.8,208.5 L1834.2,208.0 L1837.6,207.5 L1841.0,207.0 L1844.4,206.6 L1847.8,206.2 L1851.2,205.8 L1854.6,205.4 L1858.0,205.1 L1861.4,204.8 L1864.9,204.4 L1868.3,204.1 L1871.7,203.9 L1875.1,203.6 L1878.5,203.4 L1881.9,203.1 L1885.4,202.9 L1888.8,202.7 L1892.2,202.5 L1895.6,202.3 L1899.1,202.2 L1902.5,202.0 L1905.9,201.9 L1909.4,201.7 L1912.8,201.6 L1916.2,201.5 L1919.7,201.4 L1923.1,201.3 L1926.5,201.2 L1930.0,201.2 L1933.4,201.1 L1936.9,201.0 L1940.3,201.0 L1943.7,201.0 L1947.2,200.9 L1950.6,200.9 L1954.1,200.8 L1957.5,200.8 L1961.0,200.8 L1964.4,200.8 L1967.8,200.8 L1971.3,200.8 L1974.7,200.7 L1978.2,200.7 L1981.6,200.7 L1985.1,200.7 L1988.5,200.7 L1992.0,200.7 L1995.4,200.7 L1998.9,200.7 L2002.3,200.6 L2005.8,200.6 L2009.2,200.6 L2012.7,200.6 L2016.1,200.5 L2019.5,200.5 L2023.0,200.5 L2026.4,200.5 L2029.9,200.4 L2033.3,200.4 L2036.8,200.4 L2040.2,200.4 L2043.7,200.3 L2047.1,200.3 L2050.5,200.3 L2054.0,200.3 L2057.4,200.3 L2060.9,200.3 L2064.3,200.3 L2067.7,200.3 L2071.2,200.3 L2074.6,200.3 L2078.1,200.3 L2081.5,200.4 L2084.9,200.4 L2088.4,200.4 L2091.8,200.5 L2095.2,200.6 L2098.7,200.6 L2102.1,200.7 L2105.5,200.8 L2109.0,200.9 L2112.4,201.0 L2115.8,201.1 L2119.3,201.3 L2122.7,201.4 L2126.1,201.6 L2129.5,201.7 L2133.0,201.9 L2136.4,202.1 L2139.8,202.3 L2143.2,202.5 L2146.7,202.8 L2150.1,203.0 L2153.5,203.3 L2156.9,203.6 L2160.3,203.9 L2163.7,204.2 L2167.2,204.6 L2170.6,204.9 L2174.0,205.3 L2177.4,205.7 L2180.8,206.1 L2184.2,206.5 L2187.6,206.9 L2191.1,207.4 L2194.5,207.9 L2197.9,208.3 L2201.3,208.8 L2204.7,209.3 L2208.1,209.8 L2211.5,210.3 L2214.9,210.8 L2218.3,211.3 L2221.7,211.9 L2225.1,212.4 L2228.5,212.9 L2231.9,213.4 L2235.3,213.9 L2238.8,214.4 L2242.2,214.9 L2245.6,215.4 L2249.0,215.9 L2252.4,216.4 L2255.8,216.9 L2259.2,217.3 L2262.6,217.8 L2266.0,218.2 L2269.5,218.6 L2272.9,219.0 L2276.3,219.4 L2279.7,219.7 L2283.1,220.1 L2286.6,220.4 L2290.0,220.7 L2293.4,221.0 L2296.8,221.2 L2300.3,221.4 L2303.7,221.6 L2307.1,221.8 L2310.6,221.9 L2314.0,222.0" stroke="#424b92" stroke-width="14"/>
<g fill="#fff" stroke="#3a4266" stroke-width="3.5"><circle cx="585.0" cy="916.5" r="22.5"/><circle cx="1115.5" cy="358.5" r="22.5"/><circle cx="1381.5" cy="537.0" r="22.5"/><circle cx="1648.0" cy="291.5" r="22.5"/><circle cx="1915.0" cy="203.0" r="22.5"/></g>
<path d="M318.9,190.1 L320.8,192.7 L322.9,195.1 L325.2,197.2 L327.7,199.2 L330.3,201.1 L332.9,202.9 L335.6,204.7 L338.2,206.5 L340.8,208.3 L343.3,210.3 L345.7,212.4 L348.0,214.5 L350.2,216.8 L352.4,219.0 L354.5,221.4 L356.6,223.7 L358.7,226.1 L360.8,228.5 L362.9,231.0 L364.9,233.4 L367.0,235.8 L369.0,238.3 L371.1,240.8 L373.1,243.2 L375.1,245.7 L377.1,248.2 L379.1,250.7 L381.1,253.3 L383.1,255.8 L385.0,258.4 L386.9,260.9 L388.8,263.5 L390.7,266.1 L392.5,268.7 L394.4,271.3 L396.2,274.0 L398.0,276.6 L399.7,279.3 L401.4,281.9 L403.2,284.6 L404.8,287.3 L406.5,290.0 L408.1,292.7 L409.8,295.4 L411.4,298.2 L412.9,300.9 L414.5,303.7 L416.0,306.5 L417.5,309.3 L419.0,312.1 L420.5,314.9 L422.0,317.7 L423.4,320.5 L424.8,323.3 L426.2,326.2 L427.6,329.0 L428.9,331.9 L430.3,334.7 L431.6,337.6 L432.9,340.5 L434.2,343.4 L435.5,346.3 L436.8,349.2 L438.0,352.1 L439.3,355.1 L440.5,358.0 L441.7,360.9 L442.9,363.9 L444.1,366.8 L445.3,369.8 L446.4,372.7 L447.6,375.7 L448.7,378.7 L449.8,381.7 L450.9,384.6 L452.0,387.6 L453.1,390.6 L454.2,393.6 L455.3,396.6 L456.3,399.6 L457.4,402.7 L458.4,405.7 L459.5,408.7 L460.5,411.7 L461.5,414.7 L462.5,417.8 L463.6,420.8 L464.6,423.8 L465.6,426.9 L466.5,429.9 L467.5,432.9 L468.5,436.0 L469.5,439.0 L470.5,442.1 L471.4,445.1 L472.4,448.2 L473.4,451.2 L474.3,454.3 L475.3,457.3 L476.3,460.4 L477.2,463.4 L478.2,466.4 L479.1,469.5 L480.1,472.5 L481.0,475.6 L482.0,478.6 L482.9,481.7 L483.9,484.7 L484.8,487.8 L485.8,490.8 L486.7,493.8 L487.7,496.9 L488.6,499.9 L489.5,503.0 L490.5,506.0 L491.4,509.1 L492.3,512.1 L493.3,515.2 L494.2,518.2 L495.1,521.2 L496.0,524.3 L496.9,527.3 L497.8,530.4 L498.7,533.4 L499.6,536.5 L500.5,539.5 L501.4,542.6 L502.3,545.6 L503.2,548.7 L504.1,551.7 L505.0,554.8 L505.8,557.8 L506.7,560.9 L507.5,564.0 L508.4,567.0 L509.2,570.1 L510.1,573.1 L510.9,576.2 L511.7,579.3 L512.6,582.3 L513.4,585.4 L514.2,588.5 L515.0,591.6 L515.8,594.6 L516.5,597.7 L517.3,600.8 L518.1,603.9 L518.8,607.0 L519.6,610.0 L520.3,613.1 L521.1,616.2 L521.8,619.3 L522.5,622.4 L523.2,625.5 L523.9,628.6 L524.6,631.7 L525.3,634.9 L525.9,638.0 L526.6,641.1 L527.3,644.2 L527.9,647.3 L528.5,650.5 L529.2,653.6 L529.8,656.7 L530.4,659.8 L531.0,663.0 L531.7,666.1 L532.3,669.2 L532.9,672.4 L533.6,675.5 L534.2,678.6 L534.9,681.7 L535.5,684.8 L536.2,687.9 L536.9,691.1 L537.7,694.2 L538.4,697.2 L539.2,700.3 L540.0,703.4 L540.8,706.5 L541.6,709.5 L542.5,712.6 L543.4,715.7 L544.3,718.7 L545.3,721.7 L546.3,724.7 L547.4,727.7 L548.5,730.7 L549.6,733.7 L550.8,736.7 L552.0,739.6 L553.3,742.5 L554.6,745.5 L556.0,748.3 L557.5,751.2 L559.1,754.0 L560.8,756.7 L562.7,759.4 L564.7,761.9 L566.9,764.5 L569.2,766.9 L571.7,769.1 L574.4,771.1 L577.1,772.8 L579.9,774.1 L582.8,774.9 L585.7,775.2 L588.6,774.8 L591.4,773.8 L594.1,772.4 L596.7,770.5 L599.2,768.4 L601.6,766.0 L603.7,763.4 L605.7,760.8 L607.4,758.0 L609.1,755.1 L610.6,752.1 L612.0,749.2 L613.3,746.2 L614.5,743.2 L615.6,740.2 L616.7,737.2 L617.8,734.2 L618.8,731.2 L619.8,728.1 L620.8,725.1 L621.7,722.2 L622.7,719.2 L623.7,716.2 L624.7,713.2 L625.8,710.2 L626.8,707.2 L627.9,704.2 L629.0,701.3 L630.1,698.3 L631.2,695.3 L632.3,692.4 L633.5,689.4 L634.6,686.4 L635.8,683.5 L637.0,680.5 L638.2,677.6 L639.4,674.6 L640.6,671.7 L641.8,668.7 L643.1,665.8 L644.3,662.9 L645.6,660.0 L646.8,657.0 L648.1,654.1 L649.4,651.2 L650.7,648.3 L652.0,645.3 L653.3,642.4 L654.7,639.5 L656.0,636.6 L657.3,633.7 L658.7,630.8 L660.0,627.9 L661.4,625.0 L662.8,622.1 L664.1,619.3 L665.5,616.4 L666.9,613.5 L668.3,610.6 L669.7,607.7 L671.0,604.9 L672.4,602.0 L673.8,599.1 L675.2,596.3 L676.6,593.4 L678.0,590.6 L679.4,587.7 L680.8,584.9 L682.3,582.0 L683.7,579.2 L685.1,576.3 L686.5,573.5 L687.9,570.6 L689.3,567.8 L690.8,565.0 L692.2,562.1 L693.6,559.3 L695.0,556.5 L696.5,553.7 L697.9,550.8 L699.4,548.0 L700.8,545.2 L702.3,542.4 L703.7,539.5 L705.2,536.7 L706.6,533.9 L708.1,531.1 L709.5,528.3 L711.0,525.5 L712.5,522.7 L714.0,519.8 L715.4,517.0 L716.9,514.2 L718.4,511.4 L719.9,508.6 L721.4,505.8 L722.9,503.0 L724.4,500.2 L725.9,497.4 L727.4,494.6 L728.9,491.7 L730.4,488.9 L732.0,486.1 L733.5,483.3 L735.0,480.5 L736.6,477.7 L738.1,474.9 L739.7,472.1 L741.2,469.3 L742.8,466.4 L744.4,463.6 L745.9,460.8 L747.5,458.1 L749.1,455.3 L750.8,452.5 L752.4,449.7 L754.1,447.0 L755.7,444.2 L757.4,441.5 L759.1,438.8 L760.9,436.1 L762.6,433.5 L764.4,430.8 L766.2,428.2 L768.1,425.6 L769.9,423.0 L771.8,420.5 L773.8,418.0 L775.7,415.5 L777.7,413.1 L779.8,410.6 L781.8,408.3 L783.9,405.9 L786.1,403.6 L788.3,401.3 L790.5,399.1 L792.8,396.9 L795.1,394.8 L797.4,392.7 L799.8,390.6 L802.2,388.6 L804.7,386.6 L807.2,384.6 L809.7,382.7 L812.2,380.8 L814.8,378.9 L817.4,377.1 L820.0,375.3 L822.6,373.5 L825.3,371.7 L828.0,370.0 L830.7,368.3 L833.4,366.6 L836.1,364.9 L838.8,363.3 L841.6,361.7 L844.3,360.1 L847.1,358.5 L849.9,357.0 L852.7,355.5 L855.6,354.0 L858.4,352.6 L861.3,351.1 L864.1,349.7 L867.0,348.3 L869.9,347.0 L872.8,345.7 L875.7,344.4 L878.7,343.1 L881.6,341.8 L884.6,340.6 L887.5,339.4 L890.5,338.2 L893.5,337.1 L896.5,336.0 L899.5,334.9 L902.5,333.8 L905.5,332.8 L908.6,331.8 L911.6,330.8 L914.7,329.8 L917.7,328.9 L920.8,328.0 L923.9,327.1 L927.0,326.2 L930.0,325.4 L933.1,324.6 L936.2,323.8 L939.3,323.1 L942.5,322.4 L945.6,321.7 L948.7,321.0 L951.8,320.4 L954.9,319.8 L958.1,319.2 L961.2,318.7 L964.4,318.1 L967.5,317.7 L970.7,317.2 L973.8,316.7 L977.0,316.3 L980.1,316.0 L983.3,315.6 L986.4,315.3 L989.6,315.0 L992.7,314.7 L995.9,314.5 L999.1,314.2 L1002.2,314.1 L1005.4,313.9 L1008.6,313.8 L1011.7,313.6 L1014.9,313.6 L1018.1,313.5 L1021.2,313.5 L1024.4,313.5 L1027.5,313.5 L1030.7,313.5 L1033.9,313.6 L1037.0,313.7 L1040.2,313.8 L1043.4,313.9 L1046.5,314.1 L1049.7,314.2 L1052.9,314.4 L1056.0,314.7 L1059.2,314.9 L1062.4,315.1 L1065.5,315.4 L1068.7,315.7 L1071.9,316.0 L1075.0,316.4 L1078.2,316.7 L1081.4,317.1 L1084.5,317.5 L1087.7,317.9 L1090.8,318.3 L1094.0,318.8 L1097.1,319.3 L1100.3,319.7 L1103.4,320.2 L1106.6,320.7 L1109.8,321.3 L1112.9,321.8 L1116.0,322.4 L1119.2,322.9 L1122.3,323.5 L1125.5,324.1 L1128.6,324.7 L1131.8,325.4 L1134.9,326.0 L1138.0,326.7 L1141.1,327.3 L1144.3,328.0 L1147.4,328.7 L1150.5,329.5 L1153.6,330.2 L1156.7,330.9 L1159.8,331.7 L1162.9,332.5 L1166.0,333.3 L1169.1,334.1 L1172.2,335.0 L1175.3,335.8 L1178.4,336.7 L1181.4,337.6 L1184.5,338.5 L1187.5,339.5 L1190.6,340.4 L1193.6,341.4 L1196.7,342.4 L1199.7,343.4 L1202.7,344.4 L1205.7,345.4 L1208.7,346.5 L1211.7,347.6 L1214.7,348.7 L1217.7,349.8 L1220.6,351.0 L1223.6,352.1 L1226.5,353.3 L1229.5,354.5 L1232.4,355.8 L1235.3,357.0 L1238.2,358.3 L1241.1,359.6 L1244.0,360.9 L1246.9,362.2 L1249.8,363.5 L1252.6,364.9 L1255.5,366.3 L1258.3,367.7 L1261.2,369.1 L1264.0,370.5 L1266.9,372.0 L1269.7,373.4 L1272.5,374.9 L1275.3,376.4 L1278.1,377.9 L1280.9,379.4 L1283.7,380.9 L1286.5,382.5 L1289.2,384.0 L1292.0,385.6 L1294.8,387.1 L1297.5,388.7 L1300.3,390.3 L1303.0,391.9 L1305.8,393.6 L1308.5,395.2 L1311.2,396.8 L1314.0,398.5 L1316.7,400.1 L1319.4,401.8 L1322.1,403.4 L1324.8,405.1 L1327.5,406.8 L1330.2,408.5 L1332.9,410.2 L1335.6,411.9 L1338.3,413.6 L1341.0,415.3 L1343.7,417.0 L1346.4,418.7 L1349.1,420.4 L1351.8,422.1 L1354.4,423.9 L1357.1,425.6 L1359.8,427.3 L1362.5,429.1 L1365.1,430.8 L1367.8,432.5 L1370.5,434.3 L1373.1,436.0 L1375.8,437.8 L1378.4,439.5 L1381.1,441.3 L1383.8,443.1 L1386.4,444.8 L1389.0,446.6 L1391.7,448.4 L1394.3,450.2 L1397.0,451.9 L1399.6,453.7 L1402.2,455.5 L1404.9,457.3 L1407.5,459.1 L1410.1,460.9 L1412.7,462.7 L1415.4,464.5 L1418.0,466.3 L1420.6,468.2 L1423.2,470.0 L1425.8,471.8 L1428.4,473.7 L1431.0,475.5 L1433.6,477.3 L1436.2,479.2 L1438.8,481.0 L1441.4,482.9 L1443.9,484.7 L1446.5,486.6 L1449.1,488.5 L1451.7,490.3 L1454.3,492.2 L1456.8,494.1 L1459.4,496.0 L1462.0,497.9 L1464.5,499.7 L1467.1,501.6 L1469.7,503.5 L1472.2,505.4 L1474.8,507.3 L1477.3,509.2 L1479.9,511.1 L1482.4,513.0 L1485.0,514.9 L1487.5,516.9 L1490.1,518.8 L1492.6,520.7 L1495.2,522.6 L1497.7,524.5 L1500.2,526.5 L1502.8,528.4 L1505.3,530.3 L1507.8,532.2 L1510.4,534.2 L1512.9,536.1 L1515.4,538.0 L1518.0,540.0 L1520.5,541.9 L1523.0,543.8 L1525.6,545.7 L1528.1,547.6 L1530.7,549.5 L1533.2,551.4 L1535.8,553.3 L1538.4,555.2 L1540.9,557.0 L1543.5,558.9 L1546.1,560.7 L1548.7,562.5 L1551.4,564.3 L1554.0,566.0 L1556.7,567.8 L1559.3,569.5 L1562.0,571.2 L1564.7,572.8 L1567.4,574.5 L1570.2,576.1 L1573.0,577.6 L1575.7,579.2 L1578.6,580.7 L1581.4,582.2 L1584.2,583.6 L1587.1,585.0 L1590.0,586.3 L1593.0,587.7 L1595.9,588.9 L1598.9,590.1 L1602.0,591.3 L1605.0,592.5 L1608.1,593.5 L1611.2,594.6 L1614.4,595.6 L1617.6,596.5 L1620.7,597.3 L1623.9,597.9 L1627.1,598.5 L1630.3,598.9 L1633.5,599.2 L1636.6,599.2 L1639.7,599.1 L1642.7,598.7 L1645.7,598.1 L1648.6,597.2 L1651.5,596.1 L1654.3,594.8 L1657.1,593.2 L1659.8,591.5 L1662.4,589.7 L1665.1,587.8 L1667.6,585.8 L1670.2,583.8 L1672.7,581.7 L1675.3,579.7 L1677.7,577.6 L1680.2,575.5 L1682.7,573.4 L1685.1,571.3 L1687.5,569.1 L1689.9,567.0 L1692.2,564.8 L1694.6,562.6 L1696.9,560.4 L1699.2,558.2 L1701.5,556.0 L1703.7,553.8 L1706.0,551.5 L1708.2,549.2 L1710.4,547.0 L1712.6,544.7 L1714.8,542.4 L1716.9,540.1 L1719.1,537.7 L1721.2,535.4 L1723.3,533.0 L1725.4,530.7 L1727.5,528.3 L1729.6,525.9 L1731.7,523.5 L1733.7,521.1 L1735.8,518.7 L1737.8,516.3 L1739.8,513.9 L1741.9,511.4 L1743.9,509.0 L1745.9,506.6 L1747.9,504.1 L1749.8,501.6 L1751.8,499.2 L1753.8,496.7 L1755.7,494.2 L1757.7,491.7 L1759.7,489.2 L1761.6,486.7 L1763.5,484.2 L1765.5,481.7 L1767.4,479.2 L1769.4,476.6 L1771.3,474.1 L1773.2,471.6 L1775.1,469.1 L1777.1,466.5 L1779.0,464.0 L1780.9,461.5 L1782.9,458.9 L1784.8,456.4 L1786.7,453.8 L1788.6,451.3 L1790.6,448.7 L1792.5,446.2 L1794.4,443.6 L1796.4,441.1 L1798.3,438.5 L1800.3,436.0 L1802.2,433.5 L1804.1,430.9 L1806.1,428.4 L1808.1,425.8 L1810.0,423.3 L1812.0,420.8 L1813.9,418.3 L1815.9,415.7 L1817.9,413.2 L1819.9,410.7 L1821.9,408.2 L1823.9,405.7 L1825.9,403.2 L1827.9,400.7 L1829.9,398.2 L1831.9,395.7 L1833.9,393.2 L1836.0,390.8 L1838.0,388.3 L1840.1,385.9 L1842.1,383.4 L1844.2,381.0 L1846.3,378.6 L1848.3,376.2 L1850.4,373.7 L1852.5,371.3 L1854.7,369.0 L1856.8,366.6 L1858.9,364.2 L1861.1,361.9 L1863.2,359.5 L1865.4,357.2 L1867.6,354.9 L1869.7,352.6 L1871.9,350.3 L1874.1,348.0 L1876.4,345.7 L1878.6,343.5 L1880.9,341.3 L1883.1,339.0 L1885.4,336.8 L1887.7,334.6 L1890.0,332.5 L1892.3,330.3 L1894.6,328.2 L1897.0,326.1 L1899.3,323.9 L1901.7,321.9 L1904.1,319.8 L1906.5,317.7 L1908.9,315.7 L1911.4,313.7 L1913.8,311.7 L1916.3,309.7 L1918.8,307.8 L1921.3,305.8 L1923.8,303.9 L1926.3,302.0 L1928.9,300.1 L1931.5,298.3 L1934.0,296.4 L1936.6,294.6 L1939.3,292.8 L1941.9,291.0 L1944.5,289.3 L1947.2,287.5 L1949.8,285.8 L1952.5,284.1 L1955.2,282.4 L1957.9,280.8 L1960.7,279.1 L1963.4,277.5 L1966.1,275.9 L1968.9,274.3 L1971.7,272.7 L1974.4,271.2 L1977.2,269.6 L1980.0,268.1 L1982.9,266.6 L1985.7,265.2 L1988.5,263.7 L1991.4,262.3 L1994.2,260.8 L1997.1,259.5 L2000.0,258.1 L2002.9,256.7 L2005.8,255.4 L2008.7,254.0 L2011.6,252.7 L2014.5,251.4 L2017.5,250.2 L2020.4,248.9 L2023.4,247.7 L2026.3,246.5 L2029.3,245.3 L2032.3,244.1 L2035.2,243.0 L2038.2,241.8 L2041.2,240.7 L2044.2,239.6 L2047.2,238.5 L2050.2,237.4 L2053.3,236.4 L2056.3,235.4 L2059.3,234.3 L2062.3,233.4 L2065.4,232.4 L2068.4,231.4 L2071.5,230.5 L2074.5,229.6 L2077.6,228.7 L2080.7,227.8 L2083.7,226.9 L2086.8,226.0 L2089.9,225.2 L2092.9,224.4 L2096.0,223.6 L2099.1,222.8 L2102.2,222.1 L2105.3,221.3 L2108.4,220.6 L2111.5,219.9 L2114.6,219.2 L2117.7,218.5 L2120.8,217.8 L2123.9,217.2 L2127.0,216.6 L2130.2,216.0 L2133.3,215.4 L2136.4,214.8 L2139.5,214.2 L2142.7,213.7 L2145.8,213.2 L2148.9,212.7 L2152.1,212.2 L2155.2,211.7 L2158.4,211.2 L2161.5,210.8 L2164.7,210.4 L2167.8,210.0 L2171.0,209.6 L2174.1,209.2 L2177.3,208.8 L2180.5,208.5 L2183.6,208.2 L2186.8,207.9 L2189.9,207.6 L2193.1,207.3 L2196.3,207.0 L2199.5,206.8 L2202.6,206.5 L2205.8,206.3 L2209.0,206.1 L2212.1,206.0 L2215.3,205.8 L2218.5,205.6 L2221.7,205.5 L2224.9,205.4 L2228.0,205.3 L2231.2,205.2 L2234.4,205.1 L2237.6,205.0 L2240.8,205.0 L2244.0,205.0 L2247.1,205.0 L2250.3,205.0 L2253.5,205.0 L2256.7,205.0 L2259.9,205.1 L2263.1,205.1 L2266.3,205.2 L2269.4,205.3 L2272.6,205.4 L2275.8,205.5 L2279.0,205.7 L2282.2,205.8 L2285.4,206.0 L2288.6,206.2 L2291.8,206.3 L2294.9,206.6 L2298.1,206.8 L2301.3,207.0 L2304.5,207.3 L2307.7,207.5 L2310.8,207.8 L2314.0,208.1" stroke="#ed2d2d" stroke-width="14"/>
<g fill="#fff" stroke="#e8262b" stroke-width="6" stroke-linejoin="miter"><path d="M319.0,159.0 L346.0,186.0 L319.0,213.0 L292.0,186.0 Z"/><path d="M584.8,746.0 L611.8,773.0 L584.8,800.0 L557.8,773.0 Z"/><path d="M850.6,330.0 L877.6,357.0 L850.6,384.0 L823.6,357.0 Z"/><path d="M1116.5,297.0 L1143.5,324.0 L1116.5,351.0 L1089.5,324.0 Z"/><path d="M1382.0,416.0 L1409.0,443.0 L1382.0,470.0 L1355.0,443.0 Z"/><path d="M1649.0,568.0 L1676.0,595.0 L1649.0,622.0 L1622.0,595.0 Z"/><path d="M1915.0,288.0 L1942.0,315.0 L1915.0,342.0 L1888.0,315.0 Z"/><path d="M2180.0,180.0 L2207.0,207.0 L2180.0,234.0 L2153.0,207.0 Z"/></g>
</g>
<g stroke-width="4" stroke-linecap="square">
<line x1="319.0" y1="89.7" x2="2314.0" y2="89.7" stroke="#1a1a1a"/>
<line x1="319.0" y1="1337.0" x2="2314.0" y2="1337.0" stroke="#2a2a2a"/>
<line x1="319.0" y1="89.7" x2="319.0" y2="1337.0" stroke="#333"/>
<line x1="2314.0" y1="89.7" x2="2314.0" y2="1337.0" stroke="#7a7a7a"/>
</g>
<g>
<text x="722" y="598.4" font-size="79.5" font-weight="bold" fill="#141414">Simulated</text>
<line x1="724" y1="699.5" x2="820" y2="699.5" stroke="#151515" stroke-width="12.5"/>
<rect x="757" y="684.5" width="29" height="30" fill="#151515"/>
<text x="858.5" y="712.5" font-size="80" fill="#1a1a1a"><tspan font-style="italic">n</tspan> = 3.5 mm</text>
<line x1="724" y1="820" x2="820" y2="820" stroke="#ed2d2d" stroke-width="12.5"/>
<path d="M771,796.5 L790,820 L771,843.5 L752,820 Z" fill="#fff" stroke="#e8262b" stroke-width="3.5"/>
<text x="858.5" y="833.5" font-size="80" fill="#1a1a1a"><tspan font-style="italic">n</tspan> = 4 mm (Proposed)</text>
<line x1="724" y1="940.5" x2="820" y2="940.5" stroke="#424b92" stroke-width="12.5"/>
<ellipse cx="770.6" cy="941.0" rx="16.5" ry="18.5" fill="#fff" stroke="#3a4266" stroke-width="3"/>
<text x="858.5" y="955" font-size="80" fill="#1a1a1a"><tspan font-style="italic">n</tspan> = 4.5 mm</text>
</g>
<text x="1855.5" y="456" font-size="72" font-weight="bold" fill="#111">VSWR = 3</text>
<g font-size="98" font-weight="bold" fill="#111">
<text x="250.5" y="116">0</text>
<text x="150" y="741"><tspan font-size="134" dy="5">-</tspan><tspan dx="7" dy="-5">10</tspan></text>
<text x="147.5" y="1364"><tspan font-size="134">-</tspan><tspan dx="8.5">20</tspan></text>
</g>
<g font-size="106" font-weight="bold" fill="#111" text-anchor="middle">
<text x="317.0" y="1447">3</text>
<text x="984.0" y="1447">4</text>
<text x="1649.0" y="1447">5</text>
<text x="2314.0" y="1447">6</text>
</g>
<text x="899.5" y="1550" font-size="106.5" font-weight="bold" fill="#111">Frequency (GHz)</text>
<text transform="translate(125,1356) rotate(-90)" font-size="109" font-weight="bold" fill="#111">Reflection Coefficients (dB)</text>
</svg></body></html>
